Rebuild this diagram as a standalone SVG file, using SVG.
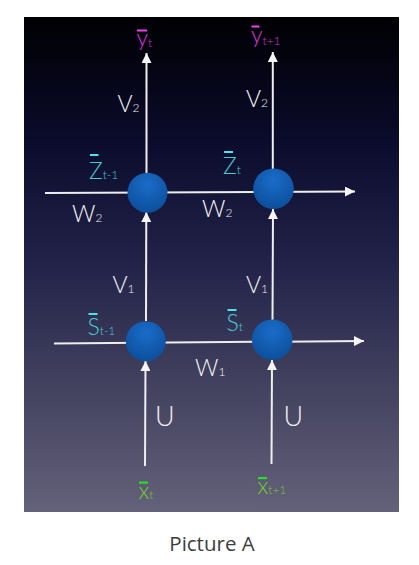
<svg xmlns="http://www.w3.org/2000/svg" width="419" height="565" viewBox="0 0 419 565">
<defs>
<linearGradient id="bg" x1="0" y1="0" x2="0" y2="1">
<stop offset="0" stop-color="#000003"/>
<stop offset="0.25" stop-color="#0b0b2c"/>
<stop offset="0.5" stop-color="#23234a"/>
<stop offset="0.75" stop-color="#43425f"/>
<stop offset="1" stop-color="#64617a"/>
</linearGradient>
<radialGradient id="nodeFill" cx="0.5" cy="0.3" r="0.7">
<stop offset="0" stop-color="#1a6cc8"/>
<stop offset="1" stop-color="#0c4f9c"/>
</radialGradient>
<marker id="arr" viewBox="0 0 10 10" refX="10" refY="5" markerWidth="10" markerHeight="10" markerUnits="userSpaceOnUse" orient="auto">
<path d="M0,0 L10,5 L0,10 Z" fill="#f4f4f4"/>
</marker>
<style>
.ln{stroke:#eeeeee;stroke-width:2;fill:none}
.lb{font-family:Lato,"Open Sans","Liberation Sans",sans-serif;font-weight:300;font-size:23px;fill:#f0f0f0}
.sb{font-size:12px}
.mag{fill:#dc2edc}
.cy{fill:#48cad2}
.gr{fill:#76ca30}
.node{fill:url(#nodeFill)}
</style>
</defs>
<rect x="24" y="17" width="375" height="495" fill="url(#bg)"/>
<g id="connectors">
<line class="ln" x1="45" y1="193" x2="355" y2="191.5" marker-end="url(#arr)"/>
<line class="ln" x1="54" y1="343.5" x2="364" y2="341" marker-end="url(#arr)"/>
<line class="ln" x1="146.5" y1="173" x2="146.5" y2="53" marker-end="url(#arr)"/>
<line class="ln" x1="272.8" y1="169" x2="272.8" y2="52" marker-end="url(#arr)"/>
<line class="ln" x1="146" y1="321" x2="146.3" y2="212" marker-end="url(#arr)"/>
<line class="ln" x1="272.5" y1="320" x2="273" y2="209" marker-end="url(#arr)"/>
<line class="ln" x1="145" y1="466" x2="145.5" y2="361" marker-end="url(#arr)"/>
<line class="ln" x1="271.5" y1="464" x2="272" y2="360" marker-end="url(#arr)"/>
</g>
<g id="node-z-prev"><circle class="node" cx="147.5" cy="192.7" r="20"/></g>
<g id="node-z"><circle class="node" cx="273.5" cy="188.7" r="20.3"/></g>
<g id="node-s-prev"><circle class="node" cx="145.8" cy="341.2" r="20"/></g>
<g id="node-s"><circle class="node" cx="272.2" cy="339.7" r="20.3"/></g>
<g id="labels">
<rect x="137" y="29.5" width="10" height="2" fill="#f040f0"/>
<text class="lb mag" x="136.5" y="45.5">y<tspan class="sb" dy="1.5">t</tspan></text>
<rect x="251.5" y="25.5" width="8" height="2" fill="#f040f0"/>
<text class="lb mag" x="251" y="43">y<tspan class="sb" dy="2">t+1</tspan></text>
<text class="lb" x="117.5" y="112">V<tspan class="sb">2</tspan></text>
<text class="lb" x="246" y="107">V<tspan class="sb">2</tspan></text>
<rect x="90" y="154" width="8.5" height="2" fill="#4ae4ea"/>
<text class="lb cy" x="89" y="179">Z<tspan class="sb">t-1</tspan></text>
<rect x="224" y="151" width="9" height="2" fill="#4ae4ea"/>
<text class="lb cy" x="223" y="174">Z<tspan class="sb">t</tspan></text>
<text class="lb" x="72" y="221.5">W<tspan class="sb">2</tspan></text>
<text class="lb" x="202" y="216.5">W<tspan class="sb">2</tspan></text>
<text class="lb" x="112.5" y="293">V<tspan class="sb">1</tspan></text>
<text class="lb" x="246" y="293">V<tspan class="sb">1</tspan></text>
<rect x="88.5" y="313" width="9" height="2" fill="#4ae4ea"/>
<text class="lb cy" x="87.5" y="335">S<tspan class="sb">t-1</tspan></text>
<rect x="227.5" y="309" width="9" height="2" fill="#4ae4ea"/>
<text class="lb cy" x="226.5" y="331">S<tspan class="sb">t</tspan></text>
<text class="lb" x="195" y="376">W<tspan class="sb">1</tspan></text>
<text class="lb" x="155" y="425.5" style="font-size:27px">U</text>
<text class="lb" x="283.5" y="425.5" style="font-size:27px">U</text>
<rect x="139" y="481.5" width="9" height="2.2" fill="#22e022"/>
<text class="lb gr" x="138.5" y="499">x<tspan class="sb">t</tspan></text>
<rect x="258" y="477" width="9" height="2.2" fill="#22e022"/>
<text class="lb gr" x="257.5" y="493.5">x<tspan class="sb">t+1</tspan></text>
</g>
<text x="212" y="551" text-anchor="middle" font-family="'Open Sans','Liberation Sans',sans-serif" font-size="20.5" fill="#3d3d3d">Picture A</text>
</svg>
